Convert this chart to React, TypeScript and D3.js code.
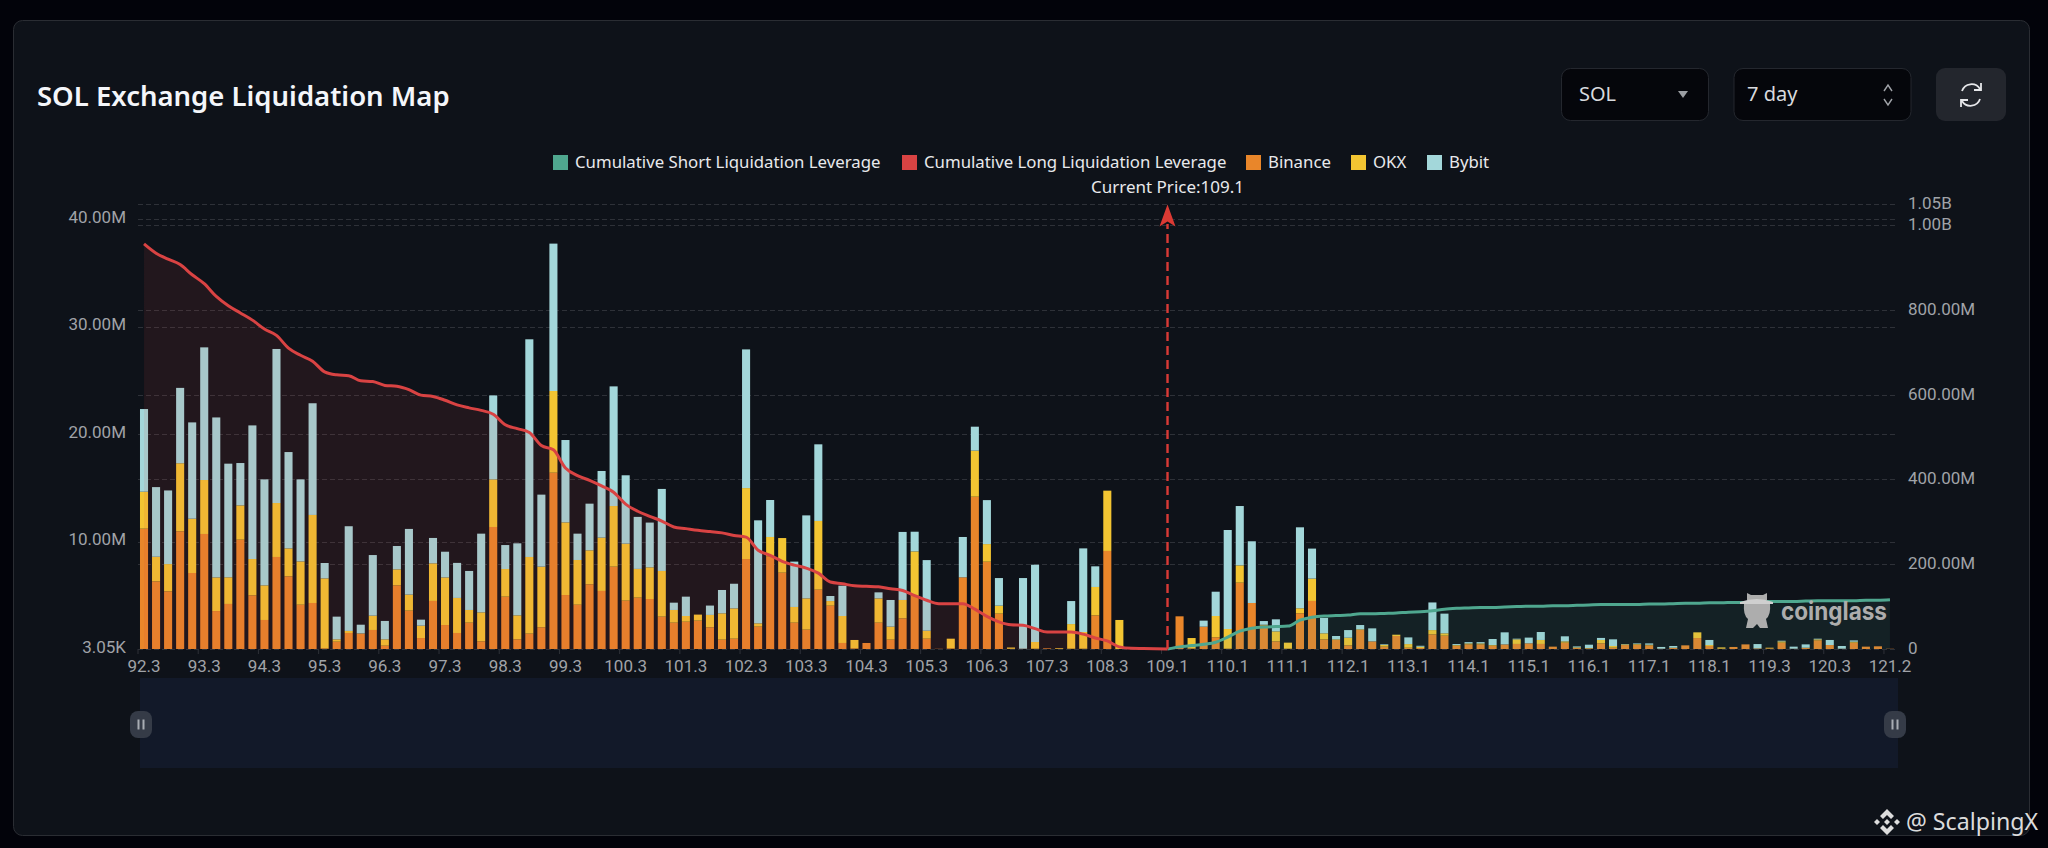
import * as d3 from "d3"
import { useRef, useEffect } from "react"

// prices, one bar each. every 5th one gets a tick label
const categories = [
  "92.3", "92.5", "92.7", "92.9", "93.1",
  "93.3", "93.5", "93.7", "93.9", "94.1",
  "94.3", "94.5", "94.7", "94.9", "95.1",
  "95.3", "95.5", "95.7", "95.9", "96.1",
  "96.3", "96.5", "96.7", "96.9", "97.1",
  "97.3", "97.5", "97.7", "97.9", "98.1",
  "98.3", "98.5", "98.7", "98.9", "99.1",
  "99.3", "99.5", "99.7", "99.9", "100.1",
  "100.3", "100.5", "100.7", "100.9", "101.1",
  "101.3", "101.5", "101.7", "101.9", "102.1",
  "102.3", "102.5", "102.7", "102.9", "103.1",
  "103.3", "103.5", "103.7", "103.9", "104.1",
  "104.3", "104.5", "104.7", "104.9", "105.1",
  "105.3", "105.5", "105.7", "105.9", "106.1",
  "106.3", "106.5", "106.7", "106.9", "107.1",
  "107.3", "107.5", "107.7", "107.9", "108.1",
  "108.3", "108.5", "108.6", "108.8", "108.9",
  "109.1", "109.3", "109.5", "109.7", "109.9",
  "110.1", "110.3", "110.5", "110.7", "110.9",
  "111.1", "111.3", "111.5", "111.7", "111.9",
  "112.1", "112.3", "112.5", "112.7", "112.9",
  "113.1", "113.3", "113.5", "113.7", "113.9",
  "114.1", "114.3", "114.5", "114.7", "114.9",
  "115.1", "115.3", "115.5", "115.7", "115.9",
  "116.1", "116.3", "116.5", "116.7", "116.9",
  "117.1", "117.3", "117.5", "117.7", "117.9",
  "118.1", "118.3", "118.5", "118.8", "119.0",
  "119.3", "119.5", "119.7", "119.9", "120.1",
  "120.3", "120.5", "120.7", "120.9", "121.0",
  "121.2",
]

// per exchange liquidation, millions
const binance = [
  11.19, 6.29, 5.36, 10.95, 7.07, 10.7, 3.53, 4.19, 10.17, 4.99,
  2.7, 8.56, 6.76, 4.12, 4.28, 0.06, 0.68, 1.49, 1.43, 1.77,
  0.31, 5.92, 3.57, 1.02, 4.47, 2.23, 1.49, 2.45, 0.71, 11.35,
  4.87, 0.9, 1.43, 2.02, 16.4, 5.02, 4.12, 6.02, 5.4, 7.66,
  4.5, 4.78, 4.65, 3.01, 2.45, 2.54, 2.64, 2.02, 0.87, 0.96,
  8.37, 2.08, 8.62, 7.1, 2.45, 1.8, 5.52, 4.03, 0.56, 0.06,
  0.56, 2.45, 0.87, 2.85, 4.96, 0.96, 0.02, 0.06, 6.67, 14.17,
  8.12, 3.29, 0.02, 0.03, 0.03, 0.06, 0.03, 0.03, 0.03, 3.13,
  9.12, 0, 0, 0, 0, 0, 3.04, 0.06, 2.08, 1.09,
  0.03, 6.17, 4.28, 2.2, 0.71, 0.03, 3.32, 4.47, 0.9, 0.84,
  0.34, 1.77, 0.71, 0.22, 1.21, 0.12, 0.09, 1.36, 1.24, 0.31,
  0.43, 0.43, 0.31, 0.43, 0.47, 0.53, 0.47, 0.22, 0.59, 0.09,
  0.06, 0.53, 0.12, 0.37, 0.4, 0.34, 0.03, 0.09, 0.34, 1.02,
  0.28, 0.03, 0.19, 0.43, 0.06, 0.06, 0.59, 0.03, 0.09, 0.81,
  0.37, 0.03, 0.59, 0.22, 0.25, 0.02,
]

const okx = [
  3.44, 2.29, 2.54, 6.33, 5.05, 5.02, 3.13, 2.48, 3.19, 3.38,
  3.22, 5.02, 2.6, 4.03, 8.19, 6.51, 0.22, 0.19, 0.02, 1.33,
  0.59, 1.49, 1.49, 1.15, 3.5, 4.43, 3.26, 1.18, 2.7, 4.43,
  2.57, 2.23, 7.13, 5.64, 7.6, 6.76, 4.16, 3.16, 4.96, 5.64,
  5.3, 2.67, 2.95, 4.25, 1.18, 0.53, 0.56, 1.15, 2.45, 2.82,
  6.6, 0.31, 1.8, 3.22, 1.46, 2.91, 6.39, 0.43, 2.51, 0.78,
  0, 2.26, 1.21, 1.71, 4.12, 0.74, 0, 0.9, 0, 4.28,
  1.64, 0.74, 0.12, 0, 0.62, 0, 0.06, 2.29, 1.55, 2.64,
  5.61, 2.7, 0, 0, 0, 0, 0, 0.96, 0, 1.98,
  1.83, 1.61, 0, 0.06, 0.93, 0.56, 0.47, 2.08, 0.56, 0.06,
  0.71, 0.06, 0, 0.16, 0.12, 0.34, 0.12, 0.4, 0.22, 0.06,
  0.09, 0.09, 0.06, 0, 0.43, 0, 0.37, 0, 0.12, 0.06,
  0.03, 0.31, 0.16, 0.06, 0.06, 0.06, 0, 0.03, 0, 0.53,
  0.09, 0.12, 0, 0, 0, 0.06, 0.12, 0, 0.03, 0.09,
  0, 0, 0.09, 0, 0, 0,
]

const bybit = [
  7.69, 6.48, 6.85, 7.01, 8.96, 12.34, 14.88, 10.57, 3.94, 12.43,
  9.86, 14.33, 8.96, 7.63, 10.39, 1.43, 2.11, 9.74, 0.81, 5.64,
  1.71, 2.17, 6.11, 0.56, 2.36, 2.39, 3.26, 3.63, 7.32, 7.81,
  2.23, 6.7, 20.25, 6.7, 13.71, 7.66, 2.45, 4.34, 6.2, 11.13,
  6.36, 4.84, 4.16, 7.63, 0.68, 1.8, 0, 0.87, 2.17, 2.29,
  12.9, 9.58, 3.44, 0, 4.22, 7.72, 7.13, 0.47, 2.82, 0,
  0, 0.56, 2.48, 6.33, 1.83, 6.57, 0, 0, 3.75, 2.23,
  4.09, 2.57, 0, 6.57, 7.19, 0, 0, 2.14, 7.78, 1.92,
  0, 0, 0, 0, 0, 0, 0, 0, 0.56, 2.26,
  9.21, 5.52, 5.74, 0.34, 1.12, 0, 7.53, 2.79, 1.43, 0.31,
  0.71, 0.4, 1.21, 0.06, 0, 0.62, 0.09, 2.57, 1.83, 0.09,
  0.12, 0.12, 0.56, 1.12, 0.06, 0.53, 0.74, 0, 0.47, 0.09,
  0.31, 0.19, 0.62, 0.03, 0.06, 0.12, 0.16, 0.16, 0, 0,
  0.47, 0, 0, 0, 0.4, 0, 0.06, 0.19, 0.31, 0.06,
  0.47, 0.25, 0.12, 0, 0, 0,
]

// cumulative leverage on the right axis, millions. null where the line is not drawn
const longCumulative: (number | null)[] = [
  956, 934, 920, 907, 883, 862, 832, 810, 793, 776,
  755, 740, 710, 693, 679, 654, 647, 645, 633, 631,
  622, 620, 612, 599, 596, 587, 576, 569, 563, 554,
  529, 520, 511, 480, 470, 427, 409, 398, 385, 370,
  342, 325, 313, 302, 288, 284, 280, 277, 274, 268,
  264, 233, 221, 207, 198, 191, 179, 158, 154, 149,
  148, 147, 142, 138, 126, 115, 107, 107, 107, 94,
  77, 64, 57, 56, 48, 40, 40, 40, 35, 26,
  19, 5, 1.5, 1, 0.5, 0,
  ...new Array(60).fill(null),
]

const shortCumulative: (number | null)[] = [
  ...new Array(85).fill(null),
  0, 5, 8, 11, 16, 28, 42, 49, 52, 53,
  54, 68, 75, 78, 79, 80, 83, 83, 84, 85,
  87, 88, 90, 94, 96, 97, 98, 98, 99, 100,
  101, 101, 102, 102, 103, 104, 105, 105, 105, 105,
  106, 106, 107, 108, 108, 109, 109, 110, 110, 111,
  112, 112, 112, 113, 114, 114, 114, 114, 115, 115,
  116,
]

const xTickLabels = categories.filter((_, i) => i % 5 === 0)
const leftTicks = [0, 10, 20, 30, 40]
const rightTicks = [0, 200, 400, 600, 800, 1000, 1050]
const exchanges = ["Binance", "OKX", "Bybit"]
const legendLabels = [
  "Cumulative Short Liquidation Leverage",
  "Cumulative Long Liquidation Leverage",
  "Binance",
  "OKX",
  "Bybit",
]
const currentPrice = "109.1"

const GREEN = "#4fa78f"
const RED = "#d94343"
const ORANGE = "#e9862a"
const YELLOW = "#f3c532"
const AQUA = "#a3d7da"
const AXIS_TEXT = "#a0a3a8"
const GRID = "#2e3138"
const FONT = "'Noto Sans', sans-serif"

const formatRight = (d: number) => {
  if (d === 0) return "0"
  return d >= 1000 ? `${(d / 1000).toFixed(2)}B` : `${d.toFixed(2)}M`
}
const formatLeft = (d: number) => (d === 0 ? "3.05K" : `${d.toFixed(2)}M`)

export default function App() {
  const svgRef = useRef<SVGSVGElement>(null)

  useEffect(() => {
    if (!svgRef.current) return
    const svg = d3.select(svgRef.current)
    svg.selectAll("*").remove()

    const margin = { left: 138, right: 1896, top: 204, bottom: 649 }

    // page and card
    svg.append("rect").attr("width", 2048).attr("height", 848).attr("fill", "#02030a")
    svg
      .append("rect")
      .attr("x", 13.5)
      .attr("y", 20.5)
      .attr("width", 2016)
      .attr("height", 815)
      .attr("rx", 9)
      .attr("fill", "#0e1219")
      .attr("stroke", "#2a2d33")

    svg
      .append("text")
      .attr("x", 37)
      .attr("y", 106)
      .attr("font-family", FONT)
      .attr("font-size", 27.5)
      .attr("font-weight", 600)
      .attr("fill", "#f4f6fa")
      .text("SOL Exchange Liquidation Map")

    const xScale = d3
      .scaleBand()
      .domain(categories)
      .range([margin.left, margin.right])
      .paddingInner(0.33)
      .paddingOuter(0.165)
    const step = xScale.step()
    const cx = (c: string) => (xScale(c) || 0) + xScale.bandwidth() / 2

    const yLeft = d3.scaleLinear().domain([0, 40]).range([margin.bottom, 219])
    const yRight = d3.scaleLinear().domain([0, 1050]).range([margin.bottom, margin.top])

    // grid, both axes have their own set of lines
    const gridValues = [...leftTicks.map((d) => yLeft(d)), ...rightTicks.map((d) => yRight(d))]
    svg
      .append("g")
      .selectAll("line")
      .data(gridValues)
      .enter()
      .append("line")
      .attr("x1", margin.left)
      .attr("x2", margin.right)
      .attr("y1", (d) => Math.round(d) + 0.5)
      .attr("y2", (d) => Math.round(d) + 0.5)
      .attr("stroke", GRID)
      .attr("stroke-dasharray", "5,3")

    svg
      .append("g")
      .selectAll("line")
      .data(xTickLabels)
      .enter()
      .append("line")
      .attr("x1", (d) => cx(d) - step / 2)
      .attr("x2", (d) => cx(d) - step / 2)
      .attr("y1", margin.bottom)
      .attr("y2", margin.bottom + 5)
      .attr("stroke", GRID)

    const styleAxis = (g: any) => {
      g.select(".domain").remove()
      g.selectAll("text")
        .style("font-size", "17px")
        .style("font-family", "Roboto, sans-serif")
        .style("fill", AXIS_TEXT)
    }

    svg
      .append("g")
      .attr("transform", "translate(126,-2)")
      .call(d3.axisLeft(yLeft).tickValues(leftTicks).tickSize(0).tickPadding(0).tickFormat((d) => formatLeft(d as number)))
      .call(styleAxis)
    svg
      .append("g")
      .attr("transform", "translate(1908,-1)")
      .call(d3.axisRight(yRight).tickValues(rightTicks).tickSize(0).tickPadding(0).tickFormat((d) => formatRight(d as number)))
      .call(styleAxis)
    svg
      .append("g")
      .attr("transform", `translate(0,${margin.bottom + 8})`)
      .call(d3.axisBottom(xScale).tickValues(xTickLabels).tickSize(0).tickPadding(3))
      .call(styleAxis)

    // stacked bars
    const rows = categories.map((c, i) => ({ category: c, Binance: binance[i], OKX: okx[i], Bybit: bybit[i] }))
    const series = d3.stack<any>().keys(exchanges)(rows)
    const barColor = d3.scaleOrdinal<string>().domain(exchanges).range([ORANGE, YELLOW, AQUA])

    svg
      .append("g")
      .selectAll("g")
      .data(series)
      .enter()
      .append("g")
      .attr("fill", (s) => barColor(s.key))
      .selectAll("rect")
      .data((s) => s.filter((d) => d[1] - d[0] > 0))
      .enter()
      .append("rect")
      .attr("x", (d) => xScale(d.data.category) || 0)
      .attr("y", (d) => yLeft(d[1]))
      .attr("width", xScale.bandwidth())
      .attr("height", (d) => yLeft(d[0]) - yLeft(d[1]))

    // cumulative lines, the areas sit over the bars and tint them
    const drawCumulative = (values: (number | null)[], color: string) => {
      const pts = categories.map((c, i) => ({ c, v: values[i] })).filter((d) => d.v !== null) as { c: string; v: number }[]
      const area = d3
        .area<{ c: string; v: number }>()
        .x((d) => cx(d.c))
        .y0(yRight(0))
        .y1((d) => yRight(d.v))
        .curve(d3.curveMonotoneX)
      const line = d3
        .line<{ c: string; v: number }>()
        .x((d) => cx(d.c))
        .y((d) => yRight(d.v))
        .curve(d3.curveMonotoneX)
      svg.append("path").datum(pts).attr("fill", color).attr("fill-opacity", 0.1).attr("d", area)
      svg.append("path").datum(pts).attr("fill", "none").attr("stroke", color).attr("stroke-width", 3).attr("d", line)
    }
    drawCumulative(shortCumulative, GREEN)
    drawCumulative(longCumulative, RED)

    // current price marker
    const priceX = cx(currentPrice)
    svg
      .append("line")
      .attr("x1", priceX)
      .attr("x2", priceX)
      .attr("y1", margin.bottom)
      .attr("y2", 224)
      .attr("stroke", "#d93a36")
      .attr("stroke-width", 2.4)
      .attr("stroke-dasharray", "9,5")
    svg
      .append("path")
      .attr("transform", `translate(${priceX},${margin.top + 0.5})`)
      .attr("d", "M0,0L8,22L0,17L-8,22Z")
      .attr("fill", "#dc3a34")
    svg
      .append("text")
      .attr("x", priceX)
      .attr("y", 193)
      .attr("text-anchor", "middle")
      .attr("font-family", FONT)
      .attr("font-size", 17)
      .attr("fill", "#e8e9ec")
      .text(`Current Price:${currentPrice}`)

    // legend
    const legendColors = [GREEN, RED, ORANGE, YELLOW, AQUA]
    const legendX = [553, 902, 1246, 1351, 1427]
    const legend = svg
      .append("g")
      .selectAll("g")
      .data(legendLabels)
      .enter()
      .append("g")
      .attr("transform", (_, i) => `translate(${legendX[i]},155)`)
    legend
      .append("rect")
      .attr("width", 15)
      .attr("height", 15)
      .attr("fill", (_, i) => legendColors[i])
    legend
      .append("text")
      .attr("x", 22)
      .attr("y", 13)
      .attr("font-family", FONT)
      .attr("font-size", 16.8)
      .attr("fill", "#e8e9ec")
      .text((d) => d)

    // data zoom strip
    svg.append("rect").attr("x", 140).attr("y", 678).attr("width", 1758).attr("height", 90).attr("fill", "#121929")
    const handles = svg
      .append("g")
      .selectAll("g")
      .data([141, 1895])
      .enter()
      .append("g")
      .attr("transform", (d) => `translate(${d},724.5)`)
    handles.append("rect").attr("x", -11).attr("y", -13.5).attr("width", 22).attr("height", 27).attr("rx", 8).attr("fill", "#353b47")
    handles.append("rect").attr("x", -3.5).attr("y", -5).attr("width", 2).attr("height", 10).attr("fill", "#a9adb4")
    handles.append("rect").attr("x", 1.5).attr("y", -5).attr("width", 2).attr("height", 10).attr("fill", "#a9adb4")

    // selectors top right
    const boxes = [
      { x: 1561.5, w: 147, label: "SOL", tx: 1579 },
      { x: 1734, w: 177, label: "7 day", tx: 1747 },
    ]
    boxes.forEach((b) => {
      svg.append("rect").attr("x", b.x).attr("y", 68.5).attr("width", b.w).attr("height", 52).attr("rx", 9).attr("fill", "#05060b").attr("stroke", "#24272e")
      svg
        .append("text")
        .attr("x", b.tx)
        .attr("y", 101)
        .attr("font-family", FONT)
        .attr("font-size", 20)
        .attr("fill", "#d8dade")
        .text(b.label)
    })
    svg.append("path").attr("d", "M1678,91L1688,91L1683,98Z").attr("fill", "#9b9ea3")
    svg.append("path").attr("d", "M1884,91L1888,85L1892,91M1884,99L1888,105L1892,99").attr("fill", "none").attr("stroke", "#a0a3a8").attr("stroke-width", 1.4)
    svg.append("rect").attr("x", 1936).attr("y", 68).attr("width", 70).attr("height", 53).attr("rx", 9).attr("fill", "#23262d")
    svg
      .append("path")
      .attr("d", "M1962,91A10,10 0 0 1 1980,89M1980,99A10,10 0 0 1 1962,101M1981,83L1981,90L1974,90M1961,107L1961,100L1968,100")
      .attr("fill", "none")
      .attr("stroke", "#e6e7ea")
      .attr("stroke-width", 1.8)

    // coinglass watermark
    const mark = svg.append("g").attr("fill", "#adadad")
    mark.append("path").attr("d", "M1747,600L1747,593L1751,595L1763,595L1767,593L1767,600Z")
    mark.append("path").attr("d", "M1740,602Q1757,596 1773,602L1773,604L1740,604Z").attr("fill", "#cfcfcf")
    mark.append("path").attr("d", "M1744,604L1770,604Q1771,615 1766,619L1768,628L1760,628L1757,624L1753,628L1746,628L1748,619Q1743,615 1744,604Z")
    mark
      .append("text")
      .attr("x", 1781)
      .attr("y", 620)
      .attr("font-family", "Inter, sans-serif")
      .attr("font-size", 25)
      .attr("font-weight", 700)
      .attr("textLength", 106)
      .attr("lengthAdjust", "spacingAndGlyphs")
      .text("coinglass")

    // repost credit
    const credit = svg.append("g").attr("transform", "translate(1887,822)").attr("fill", "#dcdcdc")
    credit.append("path").attr("d", "M0,-13L7,-6L4,-3L0,-7L-4,-3L-7,-6Z")
    credit.append("path").attr("d", "M0,13L7,6L4,3L0,7L-4,3L-7,6Z")
    credit.append("path").attr("d", "M-13,0L-10,-3L-7,0L-10,3Z")
    credit.append("path").attr("d", "M13,0L10,-3L7,0L10,3Z")
    credit.append("path").attr("d", "M0,-3L3,0L0,3L-3,0Z")
    svg
      .append("text")
      .attr("x", 1906)
      .attr("y", 830)
      .attr("font-family", FONT)
      .attr("font-size", 23.2)
      .attr("fill", "#dcdcdc")
      .text("@ ScalpingX")
  }, [])

  return <svg ref={svgRef} width={2048} height={848} style={{ position: "absolute", left: 0, top: 0, display: "block" }}></svg>
}
